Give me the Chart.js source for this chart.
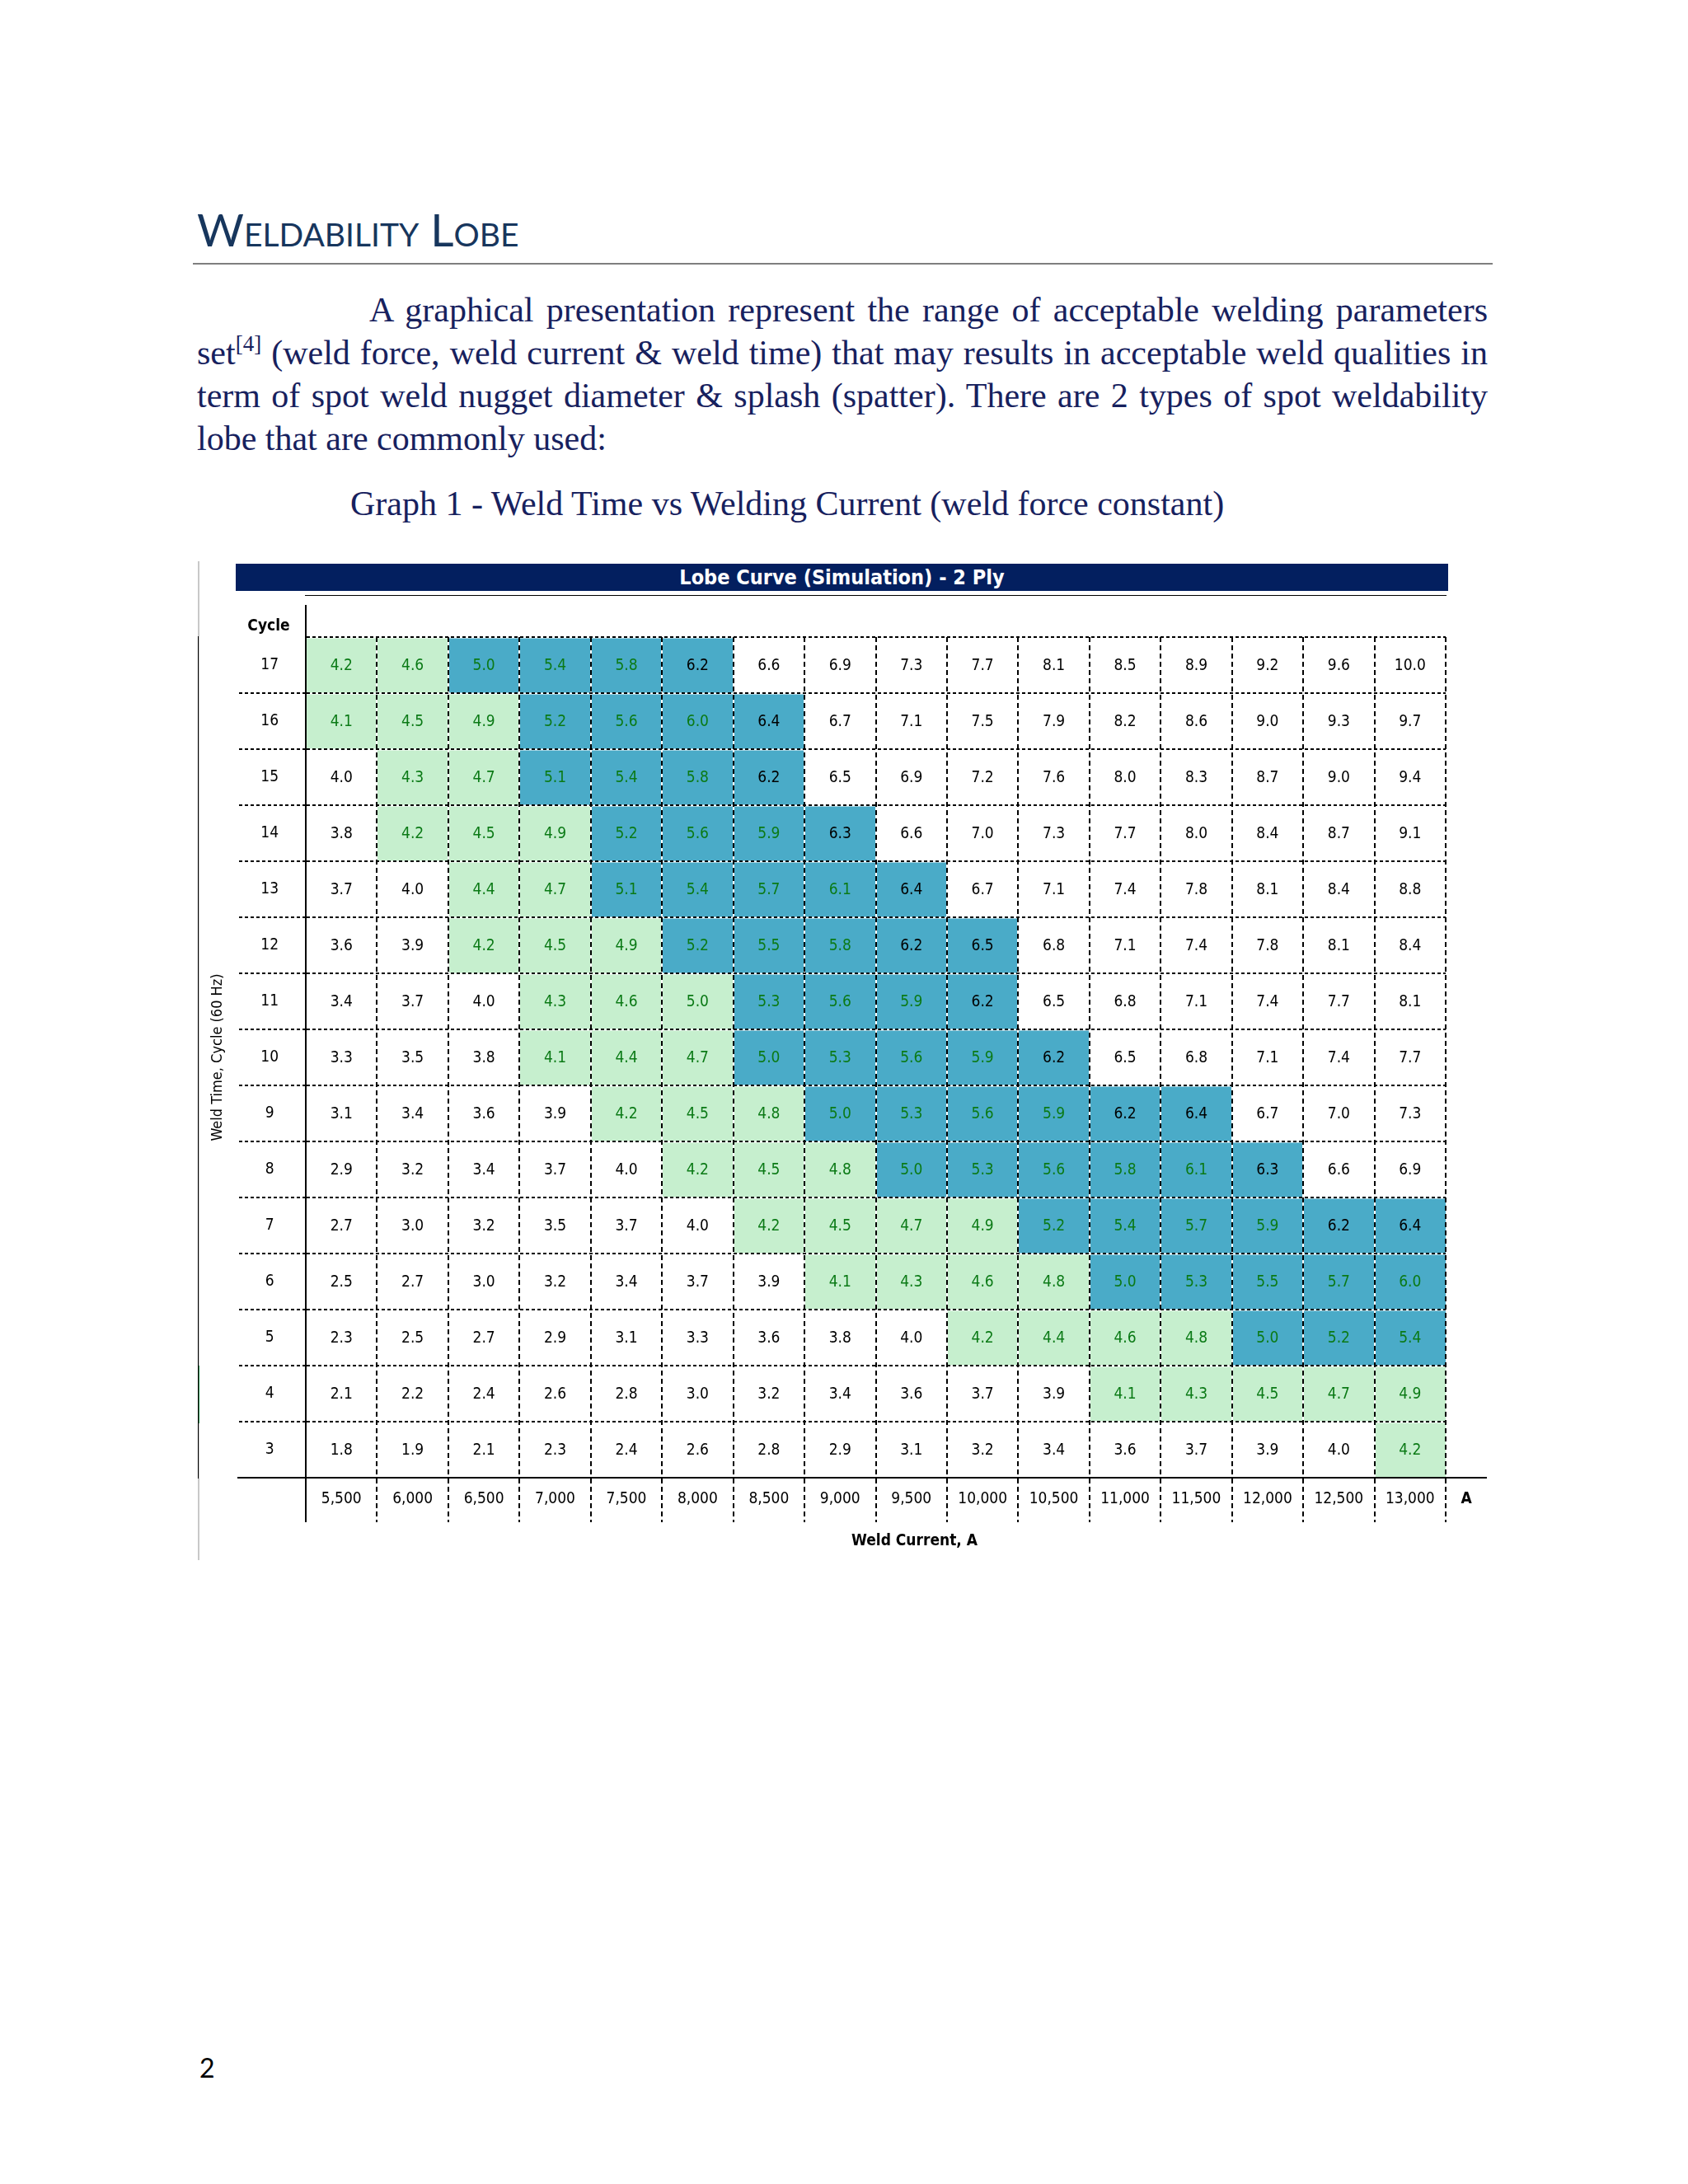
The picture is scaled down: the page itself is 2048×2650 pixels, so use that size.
<!DOCTYPE html>
<html>
<head>
<meta charset="utf-8">
<script src="https://cdn.jsdelivr.net/npm/chart.js@4.4.1/dist/chart.umd.min.js"></script>
<style>
body{margin:0;background:#fff;width:2048px;height:2650px;position:relative;overflow:hidden}
#head{position:absolute;left:239px;top:251px;font:55px Lato;line-height:55px;font-variant:small-caps;color:#17365d;white-space:nowrap}
#rule{position:absolute;left:234px;top:319px;width:1577px;height:2px;background:#7f7f7f}
#para{position:absolute;left:239px;top:350px;width:1566px;font:42px 'Liberation Serif';line-height:52px;text-align:justify;text-indent:209px;color:#17215e}
#para sup{font-size:27px;line-height:0;vertical-align:baseline;position:relative;top:-16px}
#cap{position:absolute;left:425px;top:585px;font:42px 'Liberation Serif';line-height:52px;color:#17215e;white-space:nowrap}
#side{position:absolute;left:240px;top:681px;width:2px;height:1212px;background:#c8c8c8}
#mark{position:absolute;left:240px;top:1657px;width:2px;height:70px;background:#1f8a4c}
#bar{position:absolute;left:286px;top:684px;width:1471px;height:33px;background:#031f5f;color:#fff;font:bold 25px 'DejaVu Sans Condensed','DejaVu Sans';line-height:33px;text-align:center}
#box{position:absolute;left:240px;top:722px;width:1590px;height:1178px}
#num{position:absolute;left:242px;top:2489px;font:32px Lato;line-height:40px;color:#000}
</style>
</head>
<body>
<div id="head">Weldability Lobe</div>
<div id="rule"></div>
<div id="para">A graphical presentation represent the range of acceptable welding parameters set<sup>[4]</sup> (weld force, weld current &amp; weld time) that may results in acceptable weld qualities in term of spot weld nugget diameter &amp; splash (spatter). There are 2 types of spot weldability lobe that are commonly used:</div>
<div id="cap">Graph 1 - Weld Time vs Welding Current (weld force constant)</div>
<div id="side"></div>
<div id="mark"></div>
<div id="bar">Lobe Curve (Simulation) - 2 Ply</div>
<div id="box"><canvas id="lobe"></canvas></div>
<div id="num">2</div>
<script>
// weld current (A) columns and weld time (cycle) rows
var currents = ['5,500','6,000','6,500','7,000','7,500','8,000','8,500','9,000','9,500','10,000','10,500','11,000','11,500','12,000','12,500','13,000'];
var cycles = [17,16,15,14,13,12,11,10,9,8,7,6,5,4,3];

// nugget diameter per cycle row
var c17 = [4.2,4.6,5.0,5.4,5.8,6.2,6.6,6.9,7.3,7.7,8.1,8.5,8.9,9.2,9.6,10.0];
var c16 = [4.1,4.5,4.9,5.2,5.6,6.0,6.4,6.7,7.1,7.5,7.9,8.2,8.6,9.0,9.3,9.7];
var c15 = [4.0,4.3,4.7,5.1,5.4,5.8,6.2,6.5,6.9,7.2,7.6,8.0,8.3,8.7,9.0,9.4];
var c14 = [3.8,4.2,4.5,4.9,5.2,5.6,5.9,6.3,6.6,7.0,7.3,7.7,8.0,8.4,8.7,9.1];
var c13 = [3.7,4.0,4.4,4.7,5.1,5.4,5.7,6.1,6.4,6.7,7.1,7.4,7.8,8.1,8.4,8.8];
var c12 = [3.6,3.9,4.2,4.5,4.9,5.2,5.5,5.8,6.2,6.5,6.8,7.1,7.4,7.8,8.1,8.4];
var c11 = [3.4,3.7,4.0,4.3,4.6,5.0,5.3,5.6,5.9,6.2,6.5,6.8,7.1,7.4,7.7,8.1];
var c10 = [3.3,3.5,3.8,4.1,4.4,4.7,5.0,5.3,5.6,5.9,6.2,6.5,6.8,7.1,7.4,7.7];
var c9  = [3.1,3.4,3.6,3.9,4.2,4.5,4.8,5.0,5.3,5.6,5.9,6.2,6.4,6.7,7.0,7.3];
var c8  = [2.9,3.2,3.4,3.7,4.0,4.2,4.5,4.8,5.0,5.3,5.6,5.8,6.1,6.3,6.6,6.9];
var c7  = [2.7,3.0,3.2,3.5,3.7,4.0,4.2,4.5,4.7,4.9,5.2,5.4,5.7,5.9,6.2,6.4];
var c6  = [2.5,2.7,3.0,3.2,3.4,3.7,3.9,4.1,4.3,4.6,4.8,5.0,5.3,5.5,5.7,6.0];
var c5  = [2.3,2.5,2.7,2.9,3.1,3.3,3.6,3.8,4.0,4.2,4.4,4.6,4.8,5.0,5.2,5.4];
var c4  = [2.1,2.2,2.4,2.6,2.8,3.0,3.2,3.4,3.6,3.7,3.9,4.1,4.3,4.5,4.7,4.9];
var c3  = [1.8,1.9,2.1,2.3,2.4,2.6,2.8,2.9,3.1,3.2,3.4,3.6,3.7,3.9,4.0,4.2];

// lobe zone of each cell: W = outside, G = acceptable, B = good
var z17 = 'GGBBBBWWWWWWWWWW';
var z16 = 'GGGBBBBWWWWWWWWW';
var z15 = 'WGGBBBBWWWWWWWWW';
var z14 = 'WGGGBBBBWWWWWWWW';
var z13 = 'WWGGBBBBBWWWWWWW';
var z12 = 'WWGGGBBBBBWWWWWW';
var z11 = 'WWWGGGBBBBWWWWWW';
var z10 = 'WWWGGGBBBBBWWWWW';
var z9  = 'WWWWGGGBBBBBBWWW';
var z8  = 'WWWWWGGGBBBBBBWW';
var z7  = 'WWWWWWGGGGBBBBBB';
var z6  = 'WWWWWWWGGGGBBBBB';
var z5  = 'WWWWWWWWWGGGGBBB';
var z4  = 'WWWWWWWWWWWGGGGG';
var z3  = 'WWWWWWWWWWWWWWWG';

var rows = [c17,c16,c15,c14,c13,c12,c11,c10,c9,c8,c7,c6,c5,c4,c3];
var zones = [z17,z16,z15,z14,z13,z12,z11,z10,z9,z8,z7,z6,z5,z4,z3];
var fills = {W:'#ffffff', G:'#c6efce', B:'#4aabc8'};
var cellFont = "'DejaVu Sans Condensed','DejaVu Sans',sans-serif";

var datasets = cycles.map(function(cy, r){
  return {
    label: 'Cycle ' + cy,
    data: rows[r].map(function(){ return [cy - 0.5, cy + 0.5]; }),
    nugget: rows[r],
    backgroundColor: zones[r].split('').map(function(z){ return fills[z]; }),
    borderWidth: 0,
    barPercentage: 1,
    categoryPercentage: 1,
    grouped: false
  };
});

// values in the cells + white underlay for the dashed grid
var cellText = {
  id: 'cellText',
  afterDatasetsDraw: function(chart){
    var ctx = chart.ctx, a = chart.chartArea, xs = chart.scales.x, ys = chart.scales.y;
    ctx.save();
    ctx.strokeStyle = '#fff';
    ctx.lineWidth = 2;
    ctx.beginPath();
    cycles.forEach(function(c){
      var py = Math.round(ys.getPixelForValue(c + 0.5)) + 0.5;
      ctx.moveTo(a.left, py); ctx.lineTo(a.right, py);
    });
    for (var i = 1; i < currents.length; i++) {
      var px = Math.round((xs.getPixelForValue(i - 1) + xs.getPixelForValue(i)) / 2);
      ctx.moveTo(px, a.top); ctx.lineTo(px, a.bottom);
    }
    ctx.stroke();
    ctx.font = '19px ' + cellFont;
    ctx.textAlign = 'center';
    ctx.textBaseline = 'middle';
    chart.data.datasets.forEach(function(ds, i){
      chart.getDatasetMeta(i).data.forEach(function(el, j){
        var v = ds.nugget[j];
        ctx.fillStyle = (v > 4.05 && v < 6.15) ? '#0b7a16' : '#000';
        ctx.fillText(v.toFixed(1), el.x, (el.y + el.base) / 2 + 1);
      });
    });
    ctx.restore();
  }
};

var frame = {
  id: 'frame',
  afterDraw: function(chart){
    var ctx = chart.ctx, a = chart.chartArea, xs = chart.scales.x, ys = chart.scales.y;
    ctx.save();
    ctx.strokeStyle = '#000';
    ctx.lineWidth = 2;
    ctx.beginPath();
    ctx.moveTo(a.left, a.top - 39);
    ctx.lineTo(a.left, a.bottom + 54);
    ctx.moveTo(ys.left + 48, a.bottom);
    ctx.lineTo(xs.right + 50, a.bottom);
    ctx.stroke();
    ctx.fillStyle = '#000';
    ctx.textAlign = 'center';
    ctx.textBaseline = 'middle';
    ctx.font = 'bold 19px ' + cellFont;
    ctx.fillText('Cycle', ys.right - 45, a.top - 13);
    ctx.fillText('A', xs.right + 25, a.bottom + 26);
    ctx.fillText('Weld Current, A', (xs.left + xs.right) / 2 + 47, a.bottom + 77);
    ctx.restore();
  }
};

new Chart(document.getElementById('lobe'), {
  type: 'bar',
  data: { labels: currents, datasets: datasets },
  plugins: [cellText, frame],
  options: {
    responsive: true,
    maintainAspectRatio: false,
    animation: false,
    layout: { padding: { top: 51, right: 76, left: 0, bottom: 0 } },
    plugins: { legend: { display: false }, tooltip: { enabled: false }, title: { display: false } },
    scales: {
      x: {
        type: 'category',
        offset: true,
        grid: { offset: true, z: 1, color: '#000', lineWidth: 2, tickLength: 54, tickColor: '#000', tickWidth: 2, tickBorderDash: [6, 4] },
        border: { display: true, color: '#000', width: 2, dash: [6, 4] },
        ticks: { font: { size: 19, family: cellFont }, color: '#000', padding: -39, autoSkip: false, maxRotation: 0 },
        title: { display: false },
        afterFit: function(s){ s.height = 107; }
      },
      y: {
        type: 'linear',
        min: 2.5,
        max: 17.5,
        afterBuildTicks: function(s){
          var t = [];
          cycles.slice().reverse().forEach(function(c){ t.push({value: c - 0.5}); t.push({value: c}); });
          t.push({value: 17.5});
          s.ticks = t;
        },
        grid: {
          z: 1,
          color: function(c){ return (c.tick && Number.isInteger(c.tick.value)) ? 'rgba(0,0,0,0)' : '#000'; },
          lineWidth: 2,
          tickLength: 81,
          tickWidth: 2,
          tickColor: function(c){ return (c.tick && (Number.isInteger(c.tick.value) || c.tick.value === 17.5)) ? 'rgba(0,0,0,0)' : '#000'; },
          tickBorderDash: [4, 3]
        },
        border: { display: true, color: '#000', width: 2, dash: [4, 3] },
        ticks: {
          font: { size: 19, family: cellFont }, color: '#000', padding: -48, crossAlign: 'center', autoSkip: false,
          callback: function(v){ return Number.isInteger(v) ? String(v) : ''; }
        },
        title: { display: true, text: 'Weld Time, Cycle (60 Hz)', color: '#000', font: { size: 18, family: cellFont }, padding: { top: 14, bottom: 0 } },
        afterFit: function(s){ s.width = 131; }
      }
    }
  }
});
</script>
</body>
</html>
